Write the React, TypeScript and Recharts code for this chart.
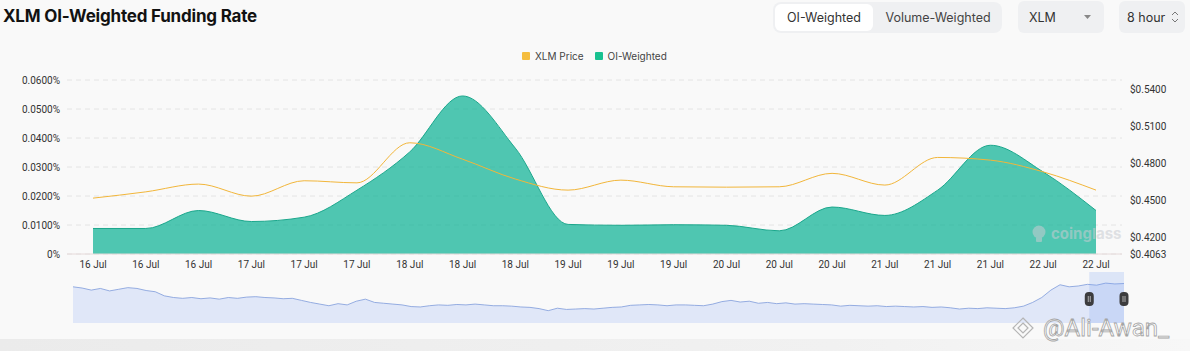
import {
  Area,
  AreaChart,
  CartesianGrid,
  ComposedChart,
  Line,
  ReferenceArea,
  XAxis,
  YAxis,
} from "recharts";

// 8-hour funding periods shown in the main chart
const periods = [
  "16 Jul", "16 Jul", "16 Jul", "17 Jul", "17 Jul", "17 Jul", "18 Jul", "18 Jul", "18 Jul", "19 Jul",
  "19 Jul", "19 Jul", "20 Jul", "20 Jul", "20 Jul", "21 Jul", "21 Jul", "21 Jul", "22 Jul", "22 Jul",
];

// OI-weighted funding rate, in percent
const oiWeighted = [
  0.0088, 0.0088, 0.015, 0.0112, 0.0127, 0.022, 0.0352, 0.0545, 0.0365, 0.0102,
  0.0099, 0.0101, 0.0099, 0.008, 0.0162, 0.0133, 0.022, 0.0375, 0.0283, 0.015,
];

// XLM price, USD
const xlmPrice = [
  0.4516, 0.4567, 0.463, 0.4532, 0.4657, 0.464, 0.4965, 0.4832, 0.4671, 0.4581,
  0.4662, 0.4608, 0.4605, 0.4608, 0.4717, 0.4622, 0.4846, 0.4824, 0.4729, 0.4581,
];

const rateTicks = [0, 0.01, 0.02, 0.03, 0.04, 0.05, 0.06];
const priceTicks = [0.4063, 0.42, 0.45, 0.48, 0.51, 0.54];

// long history drawn in the zoom slider (relative level)
const sliderHistory = [
  88, 85, 80, 84, 78, 82, 86, 84, 79, 76, 66, 62, 60, 62, 59, 61, 58, 62, 60, 63,
  64, 62, 61, 59, 60, 55, 50, 46, 42, 47, 44, 53, 58, 50, 48, 46, 44, 40, 39, 42,
  44, 43, 45, 44, 46, 44, 42, 42, 41, 39, 38, 35, 30, 36, 33, 34, 35, 34, 36, 38,
  39, 43, 44, 45, 44, 42, 44, 44, 43, 42, 46, 52, 55, 51, 53, 48, 50, 47, 49, 46,
  47, 46, 45, 44, 41, 43, 42, 41, 42, 40, 41, 40, 39, 40, 38, 39, 37, 34, 36, 35,
  37, 36, 35, 37, 41, 50, 62, 80, 93, 88, 90, 94, 92, 97, 95, 96,
];
const sliderStart = 111.2;

const chartData = periods.map((label, i) => ({
  label,
  rate: oiWeighted[i],
  price: xlmPrice[i],
}));

const sliderData = sliderHistory.map((v, i) => ({ i, v }));

const tickFont = { fontFamily: "Roboto", fontSize: 10, fill: "#333" };
const uiFont = "Inter, 'Noto Sans', sans-serif";

const SelectionShape = (props: any) => {
  const { x, y, width, height } = props;
  const hy = y + 20;
  const handle = (cx: number) => (
    <g>
      <rect x={cx - 4.5} y={hy} width={9} height={14} rx={4} fill="#3c3c3e" />
      <line x1={cx - 1} x2={cx - 1} y1={hy + 4} y2={hy + 10} stroke="#ddd" strokeWidth={0.7} />
      <line x1={cx + 1} x2={cx + 1} y1={hy + 4} y2={hy + 10} stroke="#ddd" strokeWidth={0.7} />
    </g>
  );
  return (
    <g>
      <rect x={x} y={y} width={width} height={height} fill="rgba(120,160,240,0.22)" />
      {handle(x)}
      {handle(x + width)}
    </g>
  );
};

export default function App() {
  return (
    <div
      style={{
        position: "relative",
        width: 1190,
        height: 351,
        background: "#f9f9f9",
        overflow: "hidden",
        fontFamily: uiFont,
      }}
    >
      <style>{"body{margin:0} .slider svg{overflow:visible}"}</style>

      <div
        style={{
          position: "absolute",
          left: 3,
          top: 6,
          fontSize: 17,
          fontWeight: 700,
          color: "#121212",
          letterSpacing: -0.2,
        }}
      >
        XLM OI-Weighted Funding Rate
      </div>

      {/* toggle group */}
      <div
        style={{
          position: "absolute",
          left: 773,
          top: 2,
          width: 229,
          height: 31,
          background: "#eff0f2",
          borderRadius: 8,
          whiteSpace: "nowrap",
        }}
      >
        <div
          style={{
            position: "absolute",
            left: 2,
            top: 2,
            width: 98,
            height: 27,
            background: "#fff",
            borderRadius: 6,
          }}
        />
        <div style={{ position: "absolute", left: 2, width: 98, top: 8, textAlign: "center", fontSize: 12.5, color: "#333" }}>
          OI-Weighted
        </div>
        <div style={{ position: "absolute", left: 108, width: 114, top: 8, textAlign: "center", fontSize: 12.5, color: "#444" }}>
          Volume-Weighted
        </div>
      </div>

      <div
        style={{
          position: "absolute",
          left: 1018,
          top: 1,
          width: 86,
          height: 32,
          background: "#eff0f2",
          borderRadius: 6,
        }}
      >
        <div style={{ position: "absolute", left: 11, top: 9, fontSize: 12.5, color: "#333" }}>XLM</div>
        <svg style={{ position: "absolute", left: 66, top: 13 }} width={8} height={6}>
          <path d="M0 1 L7 1 L3.5 5 Z" fill="#888" />
        </svg>
      </div>

      <div
        style={{
          position: "absolute",
          left: 1119,
          top: 1,
          width: 66,
          height: 32,
          background: "#eff0f2",
          borderRadius: 6,
          whiteSpace: "nowrap",
        }}
      >
        <div style={{ position: "absolute", left: 8, top: 9, fontSize: 12.5, color: "#333" }}>8 hour</div>
        <svg style={{ position: "absolute", left: 52, top: 10 }} width={8} height={12}>
          <path d="M1 4 L4 1 L7 4 M1 8 L4 11 L7 8" fill="none" stroke="#777" strokeWidth={1} />
        </svg>
      </div>

      {/* legend */}
      <div
        style={{
          position: "absolute",
          left: 522,
          top: 50,
          display: "flex",
          alignItems: "center",
          fontSize: 10,
          color: "#444",
          whiteSpace: "nowrap",
        }}
      >
        <span style={{ width: 8, height: 8, background: "#f5bd3f", marginRight: 5, borderRadius: 1 }} />
        <span style={{ marginRight: 11 }}>XLM Price</span>
        <span style={{ width: 8, height: 8, background: "#19c190", marginRight: 5, borderRadius: 1 }} />
        <span>OI-Weighted</span>
      </div>

      <div style={{ position: "absolute", left: 0, top: 0 }}>
        <ComposedChart width={1190} height={275} data={chartData} margin={{ top: 80, right: 0, bottom: 0, left: 0 }}>
          <CartesianGrid vertical={false} stroke="#e4e4e4" strokeDasharray="5 4" />
          <XAxis
            dataKey="label"
            height={21}
            interval={0}
            padding={{ left: 26, right: 26 }}
            tick={tickFont}
            tickLine={false}
            axisLine={{ stroke: "#e6dada" }}
            tickSize={6}
            tickMargin={1}
          />
          <YAxis
            width={67}
            domain={[0, 0.06]}
            ticks={rateTicks}
            tick={tickFont}
            tickLine={false}
            axisLine={false}
            tickSize={6}
            tickMargin={1}
            tickFormatter={(v: number) => (v === 0 ? "0%" : `${v.toFixed(4)}%`)}
          />
          <YAxis
            yAxisId="right"
            orientation="right"
            width={68}
            domain={[0.4063, 0.5474]}
            ticks={priceTicks}
            tick={tickFont}
            tickLine={false}
            axisLine={false}
            tickSize={6}
            tickMargin={2}
            tickFormatter={(v: number) => `$${v.toFixed(4)}`}
          />
          <Area
            type="monotone"
            dataKey="rate"
            stroke="#1ba78c"
            strokeWidth={1}
            fill="#16b498"
            fillOpacity={0.75}
            isAnimationActive={false}
          />
          <Line
            yAxisId="right"
            type="monotone"
            dataKey="price"
            stroke="#f2b63a"
            strokeWidth={1}
            dot={false}
            isAnimationActive={false}
          />
        </ComposedChart>
      </div>

      {/* coinglass watermark */}
      <div
        style={{
          position: "absolute",
          left: 1031,
          top: 224,
          display: "flex",
          alignItems: "center",
          opacity: 0.55,
          color: "#c9ccd2",
          fontWeight: 700,
          fontSize: 15,
        }}
      >
        <svg width={16} height={18} style={{ marginRight: 4 }}>
          <circle cx={8} cy={7} r={6.5} fill="#c9ccd2" />
          <rect x={5} y={12} width={6} height={5} rx={1} fill="#c9ccd2" />
        </svg>
        coinglass
      </div>

      {/* zoom slider */}
      <div className="slider" style={{ position: "absolute", left: 73, top: 272 }}>
        <AreaChart width={1051} height={51} data={sliderData} margin={{ top: 0, right: 0, bottom: 0, left: 0 }}>
          <XAxis dataKey="i" type="number" domain={[0, sliderHistory.length - 1]} hide />
          <YAxis domain={[0, 124]} hide />
          <Area
            type="linear"
            dataKey="v"
            stroke="#7e9bdb"
            strokeWidth={0.8}
            fill="#e0e7f8"
            fillOpacity={1}
            dot={false}
            isAnimationActive={false}
          />
          <ReferenceArea
            x1={sliderStart}
            x2={sliderHistory.length - 1}
            y1={0}
            y2={124}
            shape={SelectionShape}
          />
        </AreaChart>
      </div>

      <div
        style={{
          position: "absolute",
          left: 0,
          top: 339,
          width: 1190,
          height: 12,
          background: "linear-gradient(to right, #ebebeb, #f1f1f1 70%, #f7f7f7)",
        }}
      />

      {/* screenshot watermark */}
      <svg style={{ position: "absolute", left: 1010, top: 310 }} width={180} height={34}>
        <path d="M13 8 L23 18 L13 28 L3 18 Z M13 13 L18 18 L13 23 L8 18 Z" fill="none" stroke="#b5b5b5" strokeWidth={1.2} />
        <text x={33} y={26} fontFamily="Roboto" fontSize={24} fill="#fff" stroke="#a5a5a5" strokeWidth={0.8}>
          @Ali-Awan_
        </text>
      </svg>
    </div>
  );
}
